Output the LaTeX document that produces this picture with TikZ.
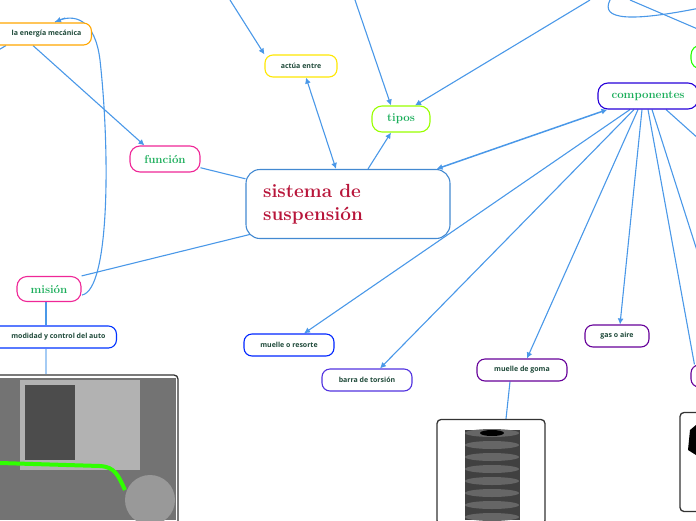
\documentclass[tikz,border=0pt]{standalone}
\usepackage{fontspec}
\setsansfont{Open Sans}
\usetikzlibrary{arrows.meta,calc,backgrounds}
\definecolor{edge}{HTML}{4A98E8}
\definecolor{txt}{HTML}{1F4A3A}
\definecolor{grn}{HTML}{1AAE5A}
\definecolor{crim}{HTML}{B8153A}
\tikzset{
 box/.style={draw,rounded corners=8pt,line width=1.1pt,fill=white,font=\sffamily\bfseries\fontsize{7}{8}\selectfont,text=txt,minimum height=22pt,inner xsep=6pt},
 mid/.style={draw,rounded corners=10pt,line width=1.1pt,fill=white,font=\rmfamily\bfseries\fontsize{11.5}{13}\selectfont,text=grn,minimum height=26pt,inner xsep=8pt},
 con/.style={draw=edge,line width=1.1pt},
 arr/.style={con,-{Latex[length=6pt,width=6pt]}},
 darr/.style={con,{Latex[length=6pt,width=6pt]}-{Latex[length=6pt,width=6pt]}},
 pic/.style={draw=black!80,line width=1.3pt,rounded corners=4pt}
}
\begin{document}
\begin{tikzpicture}[x=1pt,y=-1pt]
\useasboundingbox (0,0) rectangle (696,520);
\coordinate (t1) at (230,0);
\coordinate (t2) at (355,0);
\coordinate (t3) at (590,0);
\coordinate (e1) at (-10,55);
\coordinate (r1) at (700,260);
\coordinate (r2) at (700,140);
\node[box,draw=yellow!90!orange,minimum width=72pt] (act) at (301,66) {actúa entre};
\node[mid,draw=lime!80!green,minimum width=58pt] (tip) at (401,119) {tipos};
\node[mid,draw=blue!70!violet,minimum width=100pt] (com) at (648,96) {componentes};
\node[mid,draw=green!80!lime,minimum width=30pt,minimum height=24pt] (grr) at (706,57) {};
\node[mid,draw=magenta!80!pink,minimum width=70pt] (fun) at (165,159) {función};
\node[mid,draw=magenta!80!pink,minimum width=64pt,minimum height=25pt] (mis) at (49,289) {misión};
\node[box,draw=orange!70!yellow,inner xsep=10pt,anchor=east] (ene) at (92,34) {\hspace*{40pt}la energía mecánica};
\node[box,draw=blue!80!cyan,inner xsep=11pt,anchor=east] (mod) at (117,337) {\hspace*{30pt}modidad y control del auto};
\node[draw=edge!90!black,line width=1.1pt,rounded corners=14pt,fill=white,minimum width=204pt,minimum height=69pt,align=left,font=\rmfamily\bfseries\fontsize{19}{23}\selectfont,text=crim] (sis) at (348,204) {sistema de\hspace*{70pt}\\suspensión\hspace*{70pt}};
\node[box,draw=blue!85!cyan,minimum width=90pt] (mue) at (289,345) {muelle o resorte};
\node[box,draw=blue!70!violet!80,minimum width=90pt] (bar) at (367,380) {barra de torsión};
\node[box,draw=violet!80!blue,minimum width=90pt] (gom) at (522,370) {muelle de goma};
\node[box,draw=violet!80!blue,minimum width=64pt] (gas) at (617,336) {gas o aire};
\node[box,draw=violet!80!blue,minimum width=30pt] (prt) at (706,376) {};
% pictures
\begin{scope}
\clip (0,378) rectangle (176,520);
\fill[black!55] (0,378) rectangle (176,520);
\fill[black!30] (20,380) rectangle (140,470);
\fill[black!70] (25,385) rectangle (75,460);
\fill[gray!60] (125,380) -- (140,380) -- (100,440) -- (88,436) -- cycle;
\fill[black!40] (150,500) circle (25);
\draw[green!75!lime,line width=4pt] (0,463) -- (100,466) .. controls (115,467) and (118,475) .. (125,490);
\end{scope}
\node[pic,minimum width=183pt,minimum height=150pt] (im1) at (86.5,450) {};
\fill[black!75] (465,430) rectangle (520,520);
\foreach \yy in {433,445,...,520} \fill[black!60] (492,\yy) ellipse (27pt and 4pt);
\fill[black] (492,433) ellipse (12pt and 3pt);
\node[pic,minimum width=108pt,minimum height=105pt] (im2) at (491,472) {};
\node[pic,minimum width=30pt,minimum height=99pt] (im3) at (695,462) {};
\fill[black] (690,430) -- (696,425) -- (696,455) -- (688,450) -- cycle;
\begin{scope}[on background layer]
\draw[arr] (t1) -- (act.north west);
\draw[darr] ($(act.south)+(5,0)$) -- ($(sis.north)+(-12,0)$);
\draw[arr] (t2) -- ($(tip.north)+(-10,0)$);
\draw[arr] (t3) -- ($(tip.north)+(14,0)$);
\draw[arr] ($(sis.north)+(20,0)$) -- ($(tip.south)+(-10,0)$);
\draw[darr,line width=1.5pt] ($(sis.north east)+(-14,0)$) -- ($(com.south west)+(10,0)$);
\draw[arr] ($(com.south)+(-18,0)$) -- ($(mue.north)+(15,0)$);
\draw[arr] ($(com.south)+(-14,0)$) -- ($(bar.north)+(13,0)$);
\draw[arr] ($(com.south)+(-10,0)$) -- ($(gom.north)+(5,0)$);
\draw[arr] ($(com.south)+(-6,0)$) -- ($(gas.north)+(3,0)$);
\draw[con] (com.south) -- ($(prt.north west)+(4,0)$);
\draw[con] ($(com.south)+(4,0)$) -- (r1);
\draw[con] ($(com.south)+(18,0)$) -- (r2);
\draw[con] (610,0) .. controls (600,20) and (630,22) .. (700,8);
\draw[con] (630,0) -- (700,30);
\draw[arr] (ene.south -| 33,0) -- ($(fun.north west)+(15,0)$);
\draw[con] (ene.south -| 6,0) -- (e1);
\draw[con] (82,295) .. controls (110,290) and (110,150) .. (100,60) .. controls (95,20) and (75,12) .. (55,22);
\draw[arr] (65,18) -- (55,22);
\draw[con] (fun) -- (sis);
\draw[con] ($(sis.south west)+(6,-5)$) -- (mis.north east);
\draw[con] (mis.south -| 46,0) -- (mod.north -| 46,0);
\draw[con,edge!50] (mod.south -| 46,0) -- (im1.north -| 46,0);
\draw[con] ($(gom.south)+(-12,0)$) -- ($(im2.north)+(15,0)$);
\end{scope}
\end{tikzpicture}
\end{document}
